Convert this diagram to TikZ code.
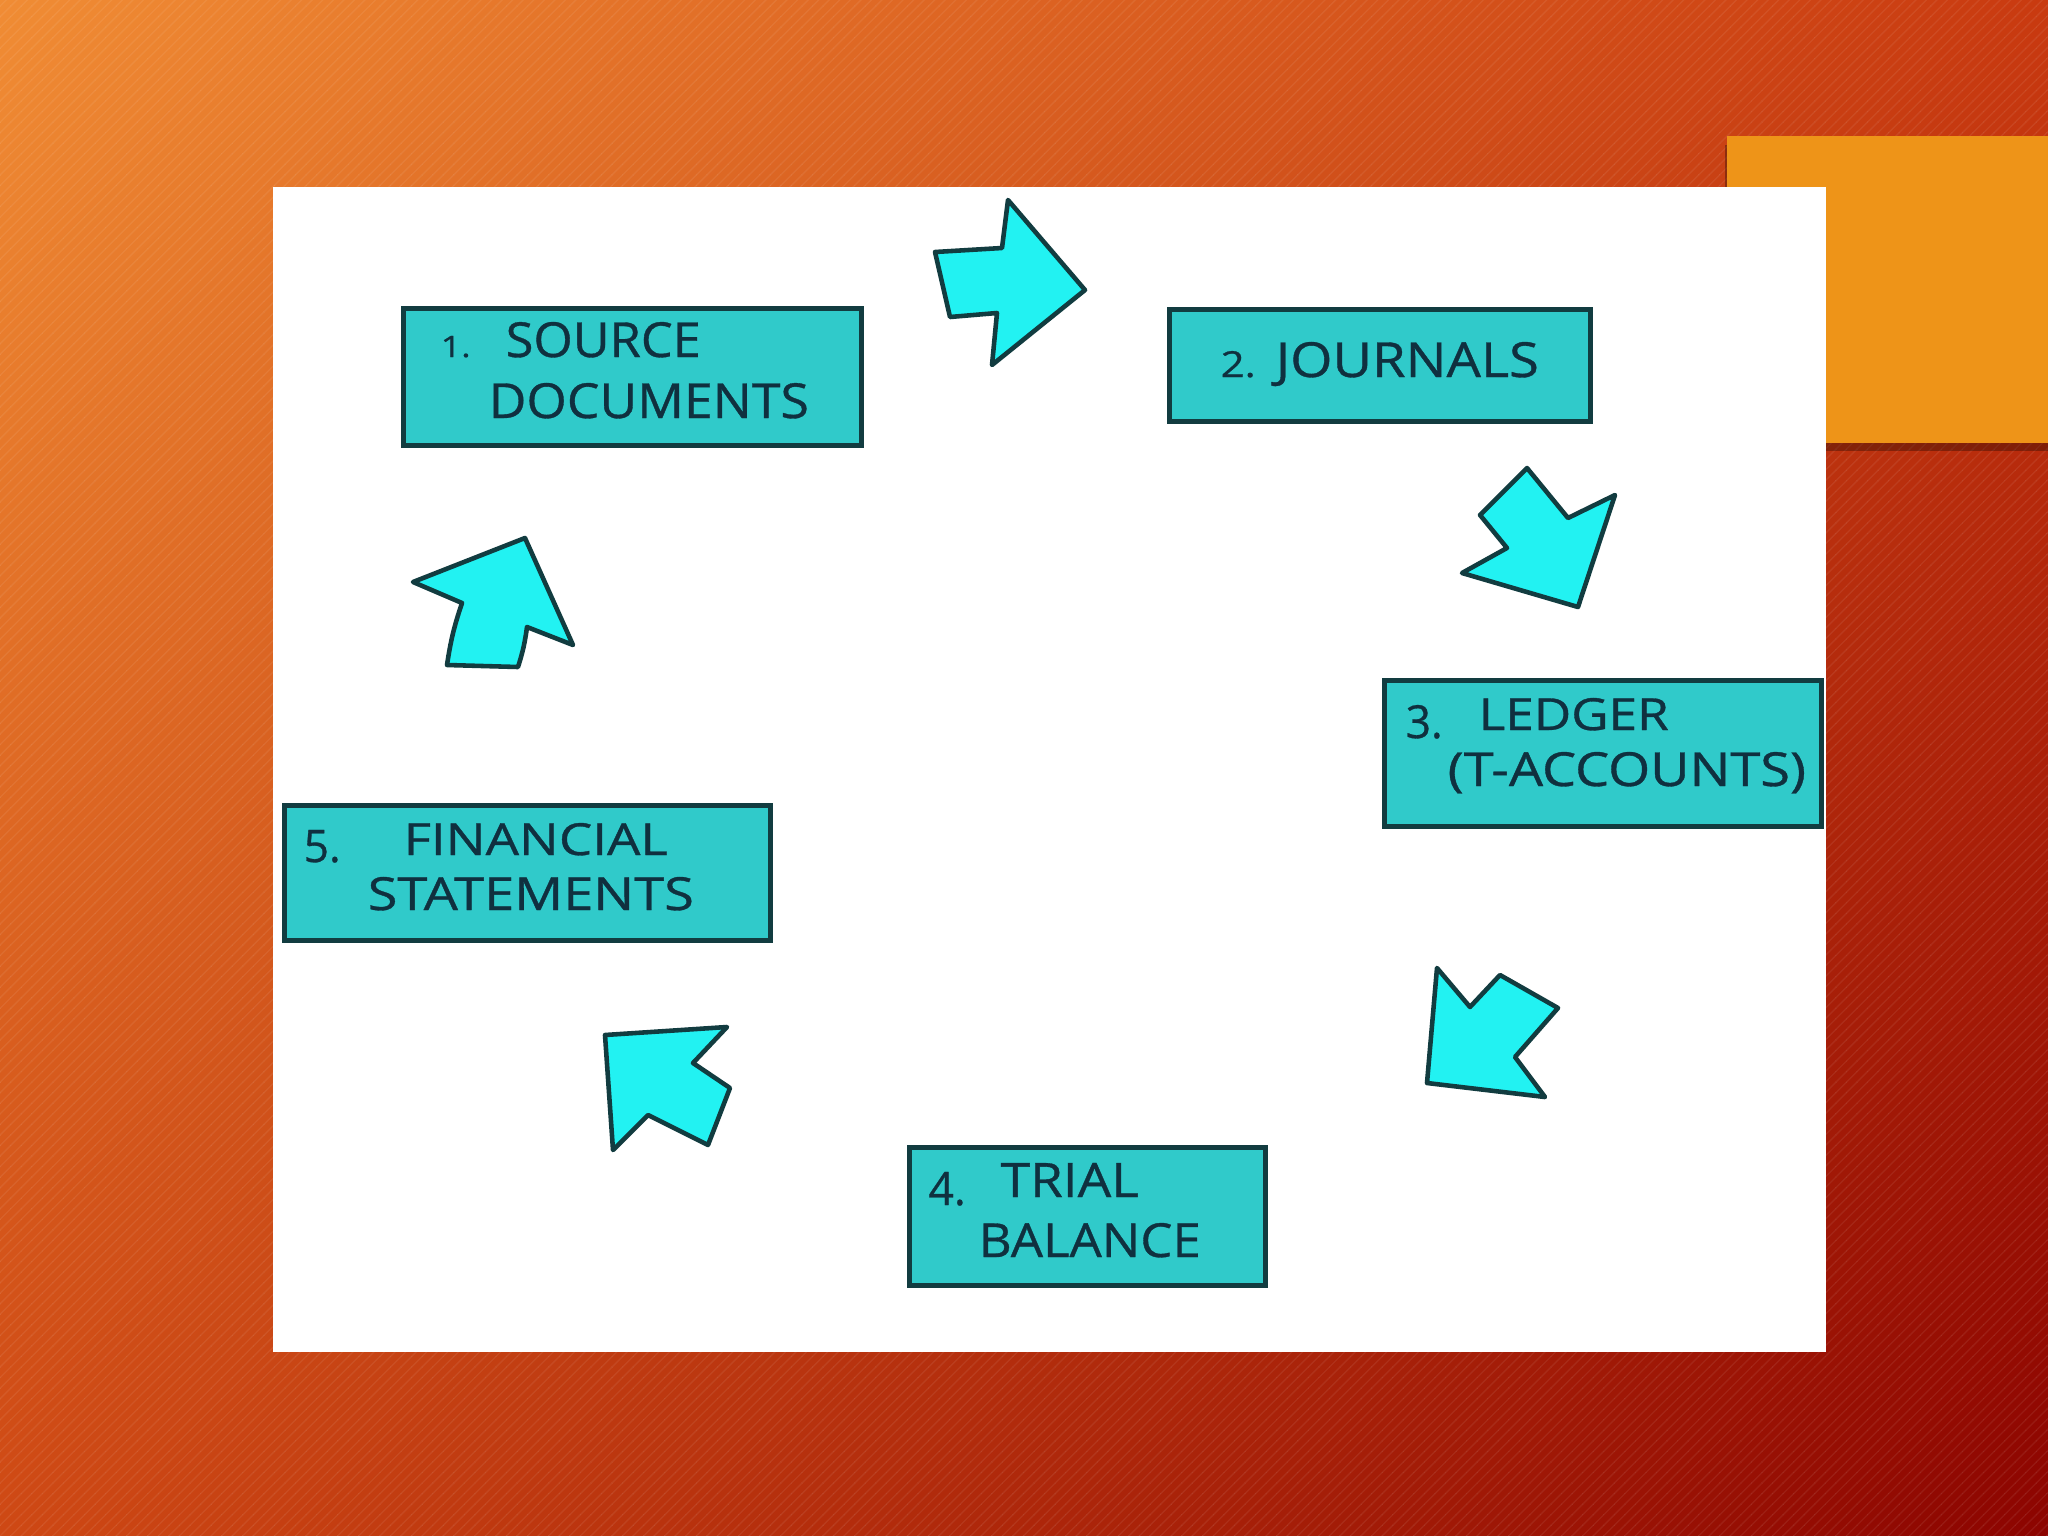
\documentclass[tikz,border=0pt]{standalone}
\usepackage{fontspec}
\setmainfont{Open Sans}
\newfontfamily\lblfont[FakeBold=0.7]{Open Sans}
\usepackage{graphicx}
\usetikzlibrary{shadings,patterns}
\definecolor{bgUL}{HTML}{F08C34}
\definecolor{bgUR}{HTML}{C93A10}
\definecolor{bgLL}{HTML}{CE4814}
\definecolor{bgLR}{HTML}{8C0400}
\definecolor{accent}{HTML}{EE9418}
\definecolor{boxfill}{HTML}{30CACA}
\definecolor{arrowfill}{HTML}{22F2F2}
\definecolor{boxline}{HTML}{123C40}
\definecolor{textcol}{HTML}{10303F}
\newcommand{\fitt}[3]{\resizebox{#1}{#2}{#3}}
\tikzset{
  boxstyle/.style={draw=boxline, line width=1.4pt, fill=boxfill, inner sep=0pt, anchor=north west},
  lbl/.style={inner sep=0pt, anchor=base west, text=textcol, font=\lblfont\fontsize{13.2}{15}\selectfont},
  blockarrow/.style={draw=boxline, line width=1.3pt, fill=arrowfill, line join=round}
}
\begin{document}
\begin{tikzpicture}[x=0.01cm,y=-0.01cm]
\useasboundingbox (0,0) rectangle (2048,1536);
% background
\shade[upper left=bgUL, upper right=bgUR, lower left=bgLL, lower right=bgLR] (0,0) rectangle (2048,1536);
\fill[pattern=north east lines, pattern color=white, opacity=0.07] (0,0) rectangle (2048,1536);
% accent block with shadow
\fill[black, opacity=0.3] (1725,145) rectangle (2048,451);
\fill[accent] (1727,136) rectangle (2048,443);
% white panel
\fill[white] (273,187) rectangle (1826,1352);

% boxes
\node[boxstyle, minimum width=4.58cm, minimum height=1.37cm] (b1) at (401,306) {};
\node[boxstyle, minimum width=4.21cm, minimum height=1.12cm] (b2) at (1167,307) {};
\node[boxstyle, minimum width=4.37cm, minimum height=1.46cm] (b3) at (1382,678) {};
\node[boxstyle, minimum width=3.56cm, minimum height=1.38cm] (b4) at (907,1145) {};
\node[boxstyle, minimum width=4.86cm, minimum height=1.35cm] (b5) at (282,803) {};

% labels
\node[lbl] (t1n) at (440,357) {\fitt{0.30cm}{0.21cm}{1.}};
\node[lbl] (t1a) at (505,357) {\fitt{1.95cm}{0.35cm}{SOURCE}};
\node[lbl] (t1b) at (488,418) {\fitt{3.20cm}{0.35cm}{DOCUMENTS}};

\node[lbl] (t2n) at (1220,377) {\fitt{0.35cm}{0.26cm}{2.}};
\node[lbl] (t2a) at (1275,377) {\fitt{2.63cm}{0.35cm}{JOURNALS}};

\node[lbl] (t3n) at (1405,738) {\fitt{0.37cm}{0.33cm}{3.}};
\node[lbl] (t3a) at (1478,730) {\fitt{1.90cm}{0.32cm}{LEDGER}};
\node[lbl] (t3b) at (1447,786) {\fitt{3.58cm}{0.34cm}{(T-ACCOUNTS)}};

\node[lbl] (t4n) at (928,1205) {\fitt{0.37cm}{0.33cm}{4.}};
\node[lbl] (t4a) at (1000,1197) {\fitt{1.38cm}{0.34cm}{TRIAL}};
\node[lbl] (t4b) at (978,1257) {\fitt{2.22cm}{0.34cm}{BALANCE}};

\node[lbl] (t5n) at (303,862) {\fitt{0.37cm}{0.32cm}{5.}};
\node[lbl] (t5a) at (403,855) {\fitt{2.64cm}{0.32cm}{FINANCIAL}};
\node[lbl] (t5b) at (367,910) {\fitt{3.26cm}{0.33cm}{STATEMENTS}};

% block arrows
\draw[blockarrow] (935,252) -- (1002,248) -- (1008,200) -- (1085,290) -- (992,365) -- (997,313) -- (950,317) -- cycle;
\draw[blockarrow] (1527,468) -- (1568,518) -- (1615,495) -- (1578,607) -- (1462,573) -- (1507,548) -- (1480,515) -- cycle;
\draw[blockarrow] (1437,968) -- (1470,1007) -- (1500,975) -- (1558,1008) -- (1515,1057) -- (1545,1097) -- (1427,1083) -- cycle;
\draw[blockarrow] (605,1035) -- (727,1027) -- (693,1063) -- (730,1088) -- (708,1145) -- (648,1115) -- (613,1150) -- cycle;
\draw[blockarrow] (413,582) -- (525,538) -- (573,645) -- (527,627) to[bend left=5] (518,667) -- (447,665) to[bend left=5] (462,603) -- cycle;
\end{tikzpicture}
\end{document}
